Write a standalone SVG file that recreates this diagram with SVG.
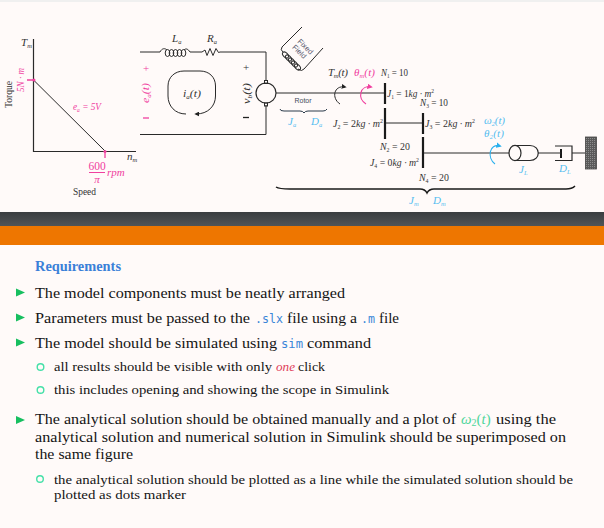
<svg xmlns="http://www.w3.org/2000/svg" width="604" height="528" viewBox="0 0 604 528">
<style>
.w{fill:none;stroke:#2a2a2a;stroke-width:1}
.w2{fill:none;stroke:#2a2a2a;stroke-width:1.2}
.gear{fill:none;stroke:#1a1a1a;stroke-width:2.2}
.m{font-family:"Liberation Serif",serif;font-size:11px;fill:#333}
.i{font-style:italic}
.s{font-size:6.5px}
.pk{fill:#f0409f}
.bl{fill:#55bdf0}
.l{font-family:"Liberation Serif",serif;font-size:15px;fill:#141414}
.sb{font-family:"Liberation Serif",serif;font-size:13.5px;fill:#141414}
.c{font-family:"DejaVu Sans Mono",monospace;font-size:12.5px;fill:#3a86d8}
.tri{fill:#17bf60}
.o{fill:none;stroke:#45e0a8;stroke-width:1.4}
</style>
<defs>
<pattern id="dots" width="2" height="2" patternUnits="userSpaceOnUse"><rect width="2" height="2" fill="#5a5a5a"/><rect width="1" height="1" fill="#8c8c8c"/></pattern>
<linearGradient id="band" x1="0" y1="0" x2="0" y2="1"><stop offset="0" stop-color="#3a3d40"/><stop offset="1" stop-color="#505457"/></linearGradient>
<marker id="ak" viewBox="0 0 6 6" refX="4" refY="3" markerWidth="5" markerHeight="5" orient="auto"><path d="M0 0L6 3L0 6Z" fill="#222"/></marker>
<marker id="ap" viewBox="0 0 6 6" refX="4" refY="3" markerWidth="5" markerHeight="5" orient="auto"><path d="M0 0L6 3L0 6Z" fill="#f0409f"/></marker>
<marker id="ac" viewBox="0 0 6 6" refX="4" refY="3" markerWidth="5" markerHeight="5" orient="auto"><path d="M0 0L6 3L0 6Z" fill="#2ab0ee"/></marker>
</defs>
<rect width="604" height="528" fill="#fffaf9"/>
<rect width="604" height="2" fill="#f0f0f0"/>
<rect y="212" width="604" height="14" fill="url(#band)"/>
<rect y="226" width="604" height="19" fill="#ee7600"/>

<g id="torque-speed-graph">
<path class="w2" d="M33.500 39V151.500H136"/>
<path class="w" d="M33.500 80L105 151"/>
<path d="M27 80H34M105 151V158" stroke="#f0409f" stroke-width="1.300" fill="none"/>
<circle cx="34" cy="80" r="1.500" fill="#f0409f"/><circle cx="105" cy="151.500" r="1.500" fill="#f0409f"/>
<text class="m i" x="21" y="46">T<tspan class="s" dy="2">m</tspan></text>
<text class="m i pk" transform="translate(24 92) rotate(-90)" textLength="24" lengthAdjust="spacingAndGlyphs">5N · m</text>
<text class="m" transform="translate(12 108) rotate(-90)" textLength="27" lengthAdjust="spacingAndGlyphs">Torque</text>
<text class="m i pk" x="73" y="110" textLength="28" lengthAdjust="spacingAndGlyphs">e<tspan class="s" dy="2">a</tspan><tspan dy="-2"> = 5V</tspan></text>
<text class="m i" x="127" y="160">n<tspan class="s" dy="2">m</tspan></text>
<text class="m pk" x="97" y="170" text-anchor="middle" style="font-size:11.500px">600</text>
<path d="M89 172.500H105" stroke="#f0409f" stroke-width="1" fill="none"/>
<text class="m i pk" x="97" y="183" text-anchor="middle">π</text>
<text class="m i pk" x="107" y="176">rpm</text>
<text class="m" x="73" y="195" textLength="23" lengthAdjust="spacingAndGlyphs">Speed</text>
</g>

<g id="connectors">
<path class="w" d="M140 52H160M190 52H202M220 52H266V81M266 105V134.500H140"/>
<path class="w" d="M276 93H385M385 123H423M423 153H509M538 153H555M572 153H585"/>
<path class="w" d="M202 52L205 50L207 55.500L210 48.500L213 55.500L216 48.500L218.500 52.500L220 52"/>
</g>

<g id="inductor-La">
<path class="w" d="M160 52C162 48 165 48 167 50M190 52C188 49 186 48 184 50"/>
<ellipse class="w" cx="167.500" cy="53" rx="2.300" ry="3.500"/><ellipse class="w" cx="171.500" cy="53" rx="2.300" ry="3.500"/><ellipse class="w" cx="175.500" cy="53" rx="2.300" ry="3.500"/><ellipse class="w" cx="179.500" cy="53" rx="2.300" ry="3.500"/><ellipse class="w" cx="183.500" cy="53" rx="2.300" ry="3.500"/>
<text class="m i" x="172" y="42">L<tspan class="s" dy="2">a</tspan></text>
</g>
<g id="resistor-Ra"><text class="m i" x="207" y="42">R<tspan class="s" dy="2">a</tspan></text></g>

<g id="source-ea">
<text class="m pk" x="146" y="72" text-anchor="middle">+</text>
<text class="m i pk" transform="translate(149 103) rotate(-90)" textLength="20" lengthAdjust="spacingAndGlyphs">e<tspan class="s" dy="2">a</tspan><tspan dy="-2">(t)</tspan></text>
<path d="M143 118H149" stroke="#f0409f" stroke-width="1.300"/>
</g>
<g id="current-loop">
<path class="w" d="M186 114C175 114 168 106 168 96V86C168 77 175 71 184 71H200C209 71 215.500 77 215.500 86V96C215.500 106 208 114 196 114" marker-end="url(#ak)" />
<text class="m i" x="183" y="97" textLength="18" lengthAdjust="spacingAndGlyphs">i<tspan class="s" dy="2">a</tspan><tspan dy="-2">(t)</tspan></text>
</g>
<g id="back-emf">
<text class="m" x="246" y="71" text-anchor="middle">+</text>
<text class="m i" transform="translate(250 104) rotate(-90)" textLength="21" lengthAdjust="spacingAndGlyphs">v<tspan class="s" dy="2">b</tspan><tspan dy="-2">(t)</tspan></text>
<path d="M243 117.500H249" stroke="#222" stroke-width="1.300"/>
</g>
<g id="motor">
<circle class="w2" cx="266" cy="93" r="10" fill="#fffaf9"/>
<rect class="w" x="264.500" y="80.500" width="3" height="3" fill="#fffaf9"/>
<rect class="w" x="264.500" y="103" width="3" height="3" fill="#fffaf9"/>
</g>
<g id="fixed-field">
<path class="w" d="M302 27L282 47Q280 50 283 52M298 69Q302 72 304 69L323 48"/>
<ellipse class="w" cx="285.500" cy="55" rx="2.200" ry="3.600" transform="rotate(-45 285.500 55)"/>
<ellipse class="w" cx="288.500" cy="58" rx="2.200" ry="3.600" transform="rotate(-45 288.500 58)"/>
<ellipse class="w" cx="291.500" cy="61" rx="2.200" ry="3.600" transform="rotate(-45 291.500 61)"/>
<ellipse class="w" cx="294.500" cy="64" rx="2.200" ry="3.600" transform="rotate(-45 294.500 64)"/>
<ellipse class="w" cx="297.500" cy="67" rx="2.200" ry="3.600" transform="rotate(-45 297.500 67)"/>
<text transform="translate(305 47) rotate(45)" text-anchor="middle" dominant-baseline="middle" font-family="Liberation Sans,sans-serif" font-size="7.500" fill="#5a5a70">Fixed</text>
<text transform="translate(299 52) rotate(45)" text-anchor="middle" dominant-baseline="middle" font-family="Liberation Sans,sans-serif" font-size="7.500" fill="#5a5a70">Field</text>
</g>
<g id="rotor">
<text x="303" y="103" text-anchor="middle" font-family="Liberation Sans,sans-serif" font-size="7" fill="#444c5c">Rotor</text>
<path d="M280 109Q280 111 284 111H300Q303 111 304 113Q305 111 308 111H323Q326 111 327 109" fill="none" stroke="#2a3a4a" stroke-width="1"/>
<text class="m i bl" x="288" y="125">J<tspan class="s" dy="2">a</tspan></text>
<text class="m i bl" x="311" y="125">D<tspan class="s" dy="2">a</tspan></text>
</g>
<g id="torque-label">
<text class="m i" x="328" y="76" textLength="20" lengthAdjust="spacing">T<tspan class="s" dy="2">m</tspan><tspan dy="-2">(t)</tspan></text>
<path class="w" d="M340 104C331 98 334 85 345 87" marker-end="url(#ak)"/>
</g>
<g id="theta-label">
<text class="m i pk" x="354" y="76" textLength="21" lengthAdjust="spacing">θ<tspan class="s" dy="2">m</tspan><tspan dy="-2">(t)</tspan></text>
<path d="M366 104C357 98 360 85 371 87" fill="none" stroke="#f0409f" stroke-width="1.100" marker-end="url(#ap)"/>
</g>
<g id="gear-N1">
<path class="gear" d="M385 83V104"/>
<text class="m" x="381" y="76" textLength="27" lengthAdjust="spacingAndGlyphs"><tspan class="i">N</tspan><tspan class="s" dy="2">1</tspan><tspan dy="-2"> = 10</tspan></text>
<text class="m" x="387" y="97" textLength="47" lengthAdjust="spacingAndGlyphs"><tspan class="i">J</tspan><tspan class="s" dy="2">1</tspan><tspan dy="-2"> = 1</tspan><tspan class="i">kg · m</tspan><tspan class="s" dy="-4">2</tspan></text>
</g>
<g id="gear-N2">
<path class="gear" d="M385 108V139"/>
<text class="m" x="333" y="127" textLength="50" lengthAdjust="spacingAndGlyphs"><tspan class="i">J</tspan><tspan class="s" dy="2">2</tspan><tspan dy="-2"> = 2</tspan><tspan class="i">kg · m</tspan><tspan class="s" dy="-4">2</tspan></text>
<text class="m" x="380" y="150" textLength="30" lengthAdjust="spacingAndGlyphs"><tspan class="i">N</tspan><tspan class="s" dy="2">2</tspan><tspan dy="-2"> = 20</tspan></text>
</g>
<g id="gear-N3">
<path class="gear" d="M423 113V134"/>
<text class="m" x="420" y="106" textLength="28" lengthAdjust="spacingAndGlyphs"><tspan class="i">N</tspan><tspan class="s" dy="2">3</tspan><tspan dy="-2"> = 10</tspan></text>
<text class="m" x="425" y="127" textLength="50" lengthAdjust="spacingAndGlyphs"><tspan class="i">J</tspan><tspan class="s" dy="2">3</tspan><tspan dy="-2"> = 2</tspan><tspan class="i">kg · m</tspan><tspan class="s" dy="-4">2</tspan></text>
</g>
<g id="gear-N4">
<path class="gear" d="M423 137V168"/>
<text class="m" x="370" y="166" textLength="49" lengthAdjust="spacingAndGlyphs"><tspan class="i">J</tspan><tspan class="s" dy="2">4</tspan><tspan dy="-2"> = 0</tspan><tspan class="i">kg · m</tspan><tspan class="s" dy="-4">2</tspan></text>
<text class="m" x="419" y="181" textLength="30" lengthAdjust="spacingAndGlyphs"><tspan class="i">N</tspan><tspan class="s" dy="2">4</tspan><tspan dy="-2"> = 20</tspan></text>
</g>
<g id="output-motion">
<text class="m i bl" x="484" y="124" textLength="21" lengthAdjust="spacing">ω<tspan class="s" dy="2">2</tspan><tspan dy="-2">(t)</tspan></text>
<text class="m i bl" x="484" y="137" textLength="20" lengthAdjust="spacing">θ<tspan class="s" dy="2">2</tspan><tspan dy="-2">(t)</tspan></text>
<path d="M495 164C487 158 489 143 500 146" fill="none" stroke="#2ab0ee" stroke-width="1.100" marker-end="url(#ac)"/>
</g>
<g id="load-JL">
<path class="w2" d="M515 145.500H530C541 145.500 541 160.500 530 160.500H515" fill="#fffaf9"/>
<ellipse class="w2" cx="515" cy="153" rx="6" ry="7.700" fill="#fffaf9"/>
<text class="m i bl" x="519" y="173">J<tspan class="s" dy="2">L</tspan></text>
</g>
<g id="damper-DL">
<path class="w2" d="M555 146H572V160.500H555"/>
<path d="M561 149V158" stroke="#1a1a1a" stroke-width="2" fill="none"/>
<path class="w" d="M555 153H561"/>
<text class="m i bl" x="559" y="172">D<tspan class="s" dy="2">L</tspan></text>
</g>
<g id="wall"><rect x="585.500" y="137" width="11" height="32" fill="url(#dots)" stroke="#444" stroke-width="0.800"/></g>
<g id="equivalent-brace">
<path d="M276 187Q279 189 290 189H420Q425 189 427 193Q429 189 434 189H566Q572 189 575 186" fill="none" stroke="#1a1a1a" stroke-width="1.500"/>
<text class="m i bl" x="409" y="204">J<tspan class="s" dy="2">m</tspan></text>
<text class="m i bl" x="433" y="204">D<tspan class="s" dy="2">m</tspan></text>
</g>

<g id="requirements">
<text x="35" y="271" textLength="86" lengthAdjust="spacingAndGlyphs" font-family="Liberation Serif,serif" font-size="14.500" font-weight="bold" fill="#3a80d8">Requirements</text>
<path class="tri" d="M16 288.500L25 292.500L16 296.500Z"/>
<text class="l" x="35" y="298" textLength="310" lengthAdjust="spacingAndGlyphs">The model components must be neatly arranged</text>
<path class="tri" d="M16 313.500L25 317.500L16 321.500Z"/>
<text class="l" x="35" y="323" textLength="215" lengthAdjust="spacingAndGlyphs">Parameters must be passed to the</text>
<text class="c" x="255" y="323" textLength="28" lengthAdjust="spacingAndGlyphs">.slx</text>
<text class="l" x="287" y="323" textLength="70" lengthAdjust="spacingAndGlyphs">file using a</text>
<text class="c" x="361" y="323" textLength="14" lengthAdjust="spacingAndGlyphs">.m</text>
<text class="l" x="379" y="323" textLength="20" lengthAdjust="spacingAndGlyphs">file</text>
<path class="tri" d="M16 338.500L25 342.500L16 346.500Z"/>
<text class="l" x="35" y="348" textLength="242" lengthAdjust="spacingAndGlyphs">The model should be simulated using</text>
<text class="c" x="281" y="348" textLength="22" lengthAdjust="spacingAndGlyphs">sim</text>
<text class="l" x="307" y="348" textLength="64" lengthAdjust="spacingAndGlyphs">command</text>
<circle class="o" cx="40.500" cy="367" r="3.300"/>
<text class="sb" x="54" y="371" textLength="218" lengthAdjust="spacingAndGlyphs">all results should be visible with only</text>
<text class="sb i" x="276" y="371" textLength="19" lengthAdjust="spacingAndGlyphs" style="fill:#e0405a">one</text>
<text class="sb" x="298" y="371" textLength="27" lengthAdjust="spacingAndGlyphs">click</text>
<circle class="o" cx="40.500" cy="390" r="3.300"/>
<text class="sb" x="54" y="394" textLength="335" lengthAdjust="spacingAndGlyphs">this includes opening and showing the scope in Simulink</text>
<path class="tri" d="M16 416L25 420L16 424Z"/>
<text class="l" x="35" y="424" textLength="421" lengthAdjust="spacingAndGlyphs">The analytical solution should be obtained manually and a plot of</text>
<text x="461" y="424" font-family="Liberation Serif,serif" font-size="15" font-style="italic" fill="#4fd69c">ω<tspan font-size="10" font-style="normal" dy="2">2</tspan><tspan font-style="normal" dy="-2">(</tspan>t<tspan font-style="normal">)</tspan></text>
<text class="l" x="496" y="424" textLength="60" lengthAdjust="spacingAndGlyphs">using the</text>
<text class="l" x="35" y="442" textLength="531" lengthAdjust="spacingAndGlyphs">analytical solution and numerical solution in Simulink should be superimposed on</text>
<text class="l" x="35" y="459" textLength="98" lengthAdjust="spacingAndGlyphs">the same figure</text>
<circle class="o" cx="40" cy="479" r="3.300"/>
<text class="sb" x="54" y="484" textLength="519" lengthAdjust="spacingAndGlyphs">the analytical solution should be plotted as a line while the simulated solution should be</text>
<text class="sb" x="54" y="499" textLength="132" lengthAdjust="spacingAndGlyphs">plotted as dots marker</text>
</g>
</svg>
